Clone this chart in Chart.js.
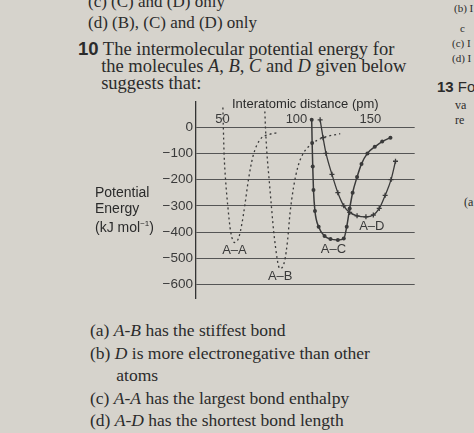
<!DOCTYPE html>
<html><head><meta charset="utf-8">
<script src="https://cdn.jsdelivr.net/npm/chart.js@4"></script>
<style>
body{margin:0;width:474px;height:433px;background:#d6d3cc;font-family:"Liberation Serif",serif;color:#2b2b2b;position:relative;overflow:hidden}
.t{position:absolute;white-space:nowrap}
.s{font-family:"Liberation Sans",sans-serif}
#wrap{position:absolute;left:90px;top:88px;width:330px;height:222px}
</style></head><body>
<div class="t" style="left:88px;top:-8px;font-size:17px">(c) (C) and (D) only</div>
<div class="t" style="left:88px;top:13px;font-size:17px">(d) (B), (C) and (D) only</div>
<div class="t" style="left:454px;top:2px;font-size:11px">(b) I</div>
<div class="t" style="left:460px;top:22px;font-size:11px">c</div>
<div class="t" style="left:452px;top:37px;font-size:11px">(c) I</div>
<div class="t" style="left:452px;top:52px;font-size:11px">(d) I</div>
<div class="t" style="left:78px;top:40px;font-size:18.5px;line-height:17px"><b style="font-family:'Liberation Sans',sans-serif">10</b> The intermolecular potential energy for<br>&nbsp;&nbsp;&nbsp;&nbsp;&nbsp;the molecules <i>A</i>, <i>B</i>, <i>C</i> and <i>D</i> given below<br>&nbsp;&nbsp;&nbsp;&nbsp;&nbsp;suggests that:</div>
<div class="t s" style="left:437px;top:78px;font-size:15px"><b>13</b> Fo</div>
<div class="t" style="left:455px;top:98px;font-size:12px">va<br>re</div>
<div class="t" style="left:464px;top:195px;font-size:12px">(a</div>
<div id="wrap"><canvas id="c"></canvas></div>
<div class="t s" style="left:232px;top:96px;font-size:13px">Interatomic distance (pm)</div>
<div class="t s" style="left:95px;top:184px;font-size:14px;line-height:16px">Potential<br>Energy<br>(kJ mol<sup style="font-size:8px">−1</sup>)</div>
<div class="t" style="left:90px;top:319px;font-size:17.5px;line-height:22.5px">(a) <i>A</i>-<i>B</i> has the stiffest bond<br>(b) <i>D</i> is more electronegative than other<br>&nbsp;&nbsp;&nbsp;&nbsp;&nbsp;&nbsp;atoms<br>(c) <i>A</i>-<i>A</i> has the largest bond enthalpy<br>(d) <i>A</i>-<i>D</i> has the shortest bond length</div>
<script>
// values (x in pm, y in kJ/mol)
const aaX = [50.2,50.5,51,52,53.5,55.5,58.2,61,63,65,67.5,70.6,75,82,86.5];
const aaY = [75,0,-100,-200,-300,-400,-440,-420,-370,-300,-200,-110,-50,-27,-22];
const abX = [78.6,79,80,81.5,83,85,88.8,92,94,95.6,98,101,104.6,110,118,129.6];
const abY = [60,0,-100,-200,-300,-420,-540,-510,-430,-330,-230,-150,-100,-65,-40,-25];
const acX = [110.3,110.6,111,111.5,112.5,115,119,123,128,132,134,136,138,141,144,148,153,158,163.6];
const acY = [28,-60,-150,-240,-320,-380,-415,-427,-430,-425,-380,-310,-250,-190,-140,-100,-75,-55,-40];
const adX = [116,118,120,124,128,132,136,141,147,152,156,160,164,167];
const adY = [28,-40,-100,-180,-250,-300,-325,-338,-342,-335,-310,-260,-200,-130];
const xTicks = [50,100,150];
const curveLabels = [["A–A",58,-470],["A–B",89,-570],["A–C",125,-465],["A–D",151,-378]];

const pts = (xs, ys) => xs.map((x, i) => ({x: x, y: ys[i]}));
const ink = '#3a3a3a';

const labelPlugin = {
  id: 'labels',
  afterDatasetsDraw(chart){
    const ctx = chart.ctx, xs = chart.scales.x, ys = chart.scales.y;
    ctx.save();
    ctx.fillStyle = ink;
    ctx.font = '13px "Liberation Sans"';
    ctx.textAlign = 'center';
    ctx.textBaseline = 'middle';
    for (const t of xTicks) ctx.fillText(String(t), xs.getPixelForValue(t), ys.getPixelForValue(30));
    for (const l of curveLabels) ctx.fillText(l[0], xs.getPixelForValue(l[1]), ys.getPixelForValue(l[2]));
    ctx.restore();
  }
};

new Chart(document.getElementById('c'), {
  type: 'line',
  data: {datasets: [
    {data: pts(aaX, aaY), borderColor: ink, borderWidth: 1.3, borderDash: [2, 3], pointRadius: 0, cubicInterpolationMode: 'monotone'},
    {data: pts(abX, abY), borderColor: ink, borderWidth: 1.3, borderDash: [2, 3], pointRadius: 0, cubicInterpolationMode: 'monotone'},
    {data: pts(acX, acY), borderColor: ink, borderWidth: 1.5, pointRadius: 2, pointBackgroundColor: ink, pointBorderWidth: 0, cubicInterpolationMode: 'monotone'},
    {data: pts(adX, adY), borderColor: ink, borderWidth: 1.3, pointStyle: 'cross', pointRadius: 2.5, pointBorderColor: ink, cubicInterpolationMode: 'monotone'}
  ]},
  options: {
    responsive: true, maintainAspectRatio: false, animation: false,
    plugins: {legend: {display: false}, tooltip: {enabled: false}},
    layout: {padding: {top: 14, right: 4, bottom: 0}},
    scales: {
      x: {type: 'linear', min: 32, max: 180, display: false},
      y: {min: -655, max: 96,
          afterFit(s){ s.width = 106; },
          afterBuildTicks(s){ s.ticks = [0,-100,-200,-300,-400,-500,-600].map(v => ({value: v})); },
          ticks: {color: ink, font: {size: 13.5, family: 'Liberation Sans'}, callback: v => v === 0 ? '0' : '−' + Math.abs(v)},
          grid: {color: '#555', lineWidth: 1, drawTicks: false},
          border: {color: '#333', width: 1.3}}
    }
  },
  plugins: [labelPlugin]
});
</script>
</body></html>
